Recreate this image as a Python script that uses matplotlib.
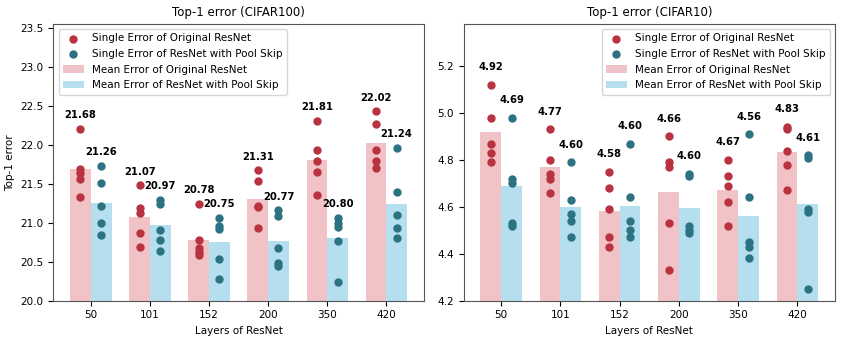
import numpy as np
import matplotlib.pyplot as plt

layers = ['50', '101', '152', '200', '350', '420']

# CIFAR100 single runs
c100_orig = [
    [22.20, 21.69, 21.64, 21.56, 21.33],
    [21.48, 21.19, 21.12, 20.87, 20.69],
    [21.24, 20.78, 20.67, 20.63, 20.58],
    [21.67, 21.54, 21.21, 21.20, 20.93],
    [22.31, 21.93, 21.79, 21.65, 21.35],
    [22.43, 22.27, 21.93, 21.79, 21.70],
]
c100_skip = [
    [21.73, 21.51, 21.21, 20.99, 20.84],
    [21.29, 21.24, 20.90, 20.78, 20.64],
    [21.06, 20.96, 20.92, 20.53, 20.28],
    [21.16, 21.08, 20.67, 20.48, 20.45],
    [21.06, 20.99, 20.94, 20.77, 20.24],
    [21.96, 21.39, 21.10, 20.93, 20.81],
]

# CIFAR10 single runs
c10_orig = [
    [5.12, 4.98, 4.87, 4.83, 4.79],
    [4.93, 4.80, 4.74, 4.72, 4.66],
    [4.75, 4.68, 4.59, 4.47, 4.43],
    [4.90, 4.79, 4.77, 4.53, 4.33],
    [4.80, 4.73, 4.69, 4.62, 4.52],
    [4.94, 4.93, 4.84, 4.78, 4.67],
]
c10_skip = [
    [4.98, 4.72, 4.70, 4.53, 4.52],
    [4.79, 4.63, 4.57, 4.54, 4.47],
    [4.87, 4.64, 4.54, 4.50, 4.47],
    [4.74, 4.73, 4.52, 4.50, 4.49],
    [4.91, 4.64, 4.45, 4.43, 4.38],
    [4.82, 4.81, 4.59, 4.58, 4.25],
]

RED, TEAL = '#b8323f', '#2b7282'
PINK, BLUE = '#f2c3c6', '#b5dfef'
plt.rcParams['font.size'] = 7.5


def draw(ax, orig, skip, title, ylim, off, loc):
    x = np.arange(len(layers))
    w = 0.35
    m_orig = [np.mean(v) for v in orig]
    m_skip = [np.mean(v) for v in skip]
    ax.bar(x - w / 2, m_orig, w, color=PINK, label='Mean Error of Original ResNet')
    ax.bar(x + w / 2, m_skip, w, color=BLUE, label='Mean Error of ResNet with Pool Skip')
    for i in range(len(layers)):
        ax.scatter([x[i] - w / 2] * len(orig[i]), orig[i], s=25, color=RED, zorder=3,
                   label='Single Error of Original ResNet' if i == 0 else None)
        ax.scatter([x[i] + w / 2] * len(skip[i]), skip[i], s=25, color=TEAL, zorder=3,
                   label='Single Error of ResNet with Pool Skip' if i == 0 else None)
        ax.text(x[i] - w / 2, max(orig[i]) + off, f'{m_orig[i]:.2f}', ha='center',
                va='center', fontweight='bold', fontsize=7.2)
        ax.text(x[i] + w / 2, max(skip[i]) + off, f'{m_skip[i]:.2f}', ha='center',
                va='center', fontweight='bold', fontsize=7.2)
    ax.set_xticks(x, layers)
    ax.set_ylim(*ylim)
    ax.set_title(title, fontsize=8.5)
    ax.set_xlabel('Layers of ResNet')
    ax.legend(loc=loc, fontsize=7.5, labelspacing=0.55)
    for s in ax.spines.values():
        s.set_color('#555555')


fig = plt.figure(figsize=(8.46, 3.46), dpi=100)
ax1 = fig.add_axes([0.063, 0.131, 0.438, 0.8])
ax2 = fig.add_axes([0.548, 0.131, 0.439, 0.8])
draw(ax1, c100_orig, c100_skip, 'Top-1 error (CIFAR100)', (20.0, 23.55), 0.175, 'upper left')
draw(ax2, c10_orig, c10_skip, 'Top-1 error (CIFAR10)', (4.2, 5.38), 0.075, 'upper right')
ax1.set_ylabel('Top-1 error')
ax2.set_yticks([4.2, 4.4, 4.6, 4.8, 5.0, 5.2])
fig.savefig('out.png', dpi=100)
